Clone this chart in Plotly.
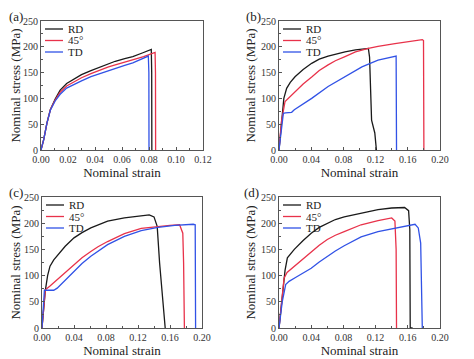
import plotly.graph_objects as go

# ---------------- data ----------------
series_names = ["RD", "45°", "TD"]
series_colors = ["#1a1a1a", "#e8324a", "#3152e6"]

# panel (a)
a_rd_x = [0, 0.002, 0.0044, 0.0069, 0.0105, 0.0142, 0.019, 0.025, 0.03, 0.037, 0.0437, 0.05, 0.055, 0.062, 0.068, 0.075, 0.0817, 0.082, 0.0821]
a_rd_y = [0, 20, 52, 78, 99, 116, 129, 138, 146, 154, 161, 167, 172, 177, 181, 188, 195, 150, 0]
a_45_x = [0, 0.002, 0.0044, 0.0069, 0.0105, 0.0142, 0.019, 0.025, 0.03, 0.037, 0.0437, 0.05, 0.055, 0.062, 0.068, 0.076, 0.0845, 0.0848, 0.0849]
a_45_y = [0, 20, 52, 78, 97, 112, 124, 133, 140, 148, 155, 161, 165, 170, 174, 181, 189, 150, 0]
a_td_x = [0, 0.002, 0.0044, 0.0069, 0.0105, 0.0142, 0.019, 0.025, 0.03, 0.037, 0.0437, 0.05, 0.055, 0.062, 0.068, 0.074, 0.0795, 0.0799, 0.080]
a_td_y = [0, 20, 52, 77, 95, 108, 120, 128, 134, 142, 148, 154, 159, 164, 169, 176, 182, 150, 0]

# panel (b)
b_rd_x = [0, 0.003, 0.006, 0.0095, 0.014, 0.0199, 0.03, 0.0406, 0.05, 0.061, 0.07, 0.082, 0.095, 0.111, 0.1125, 0.115, 0.119, 0.121]
b_rd_y = [0, 50, 100, 119.5, 131, 142, 156, 168, 176, 182, 186, 190, 194, 197, 180, 58, 33, 0]
b_45_x = [0, 0.003, 0.0075, 0.012, 0.020, 0.03, 0.041, 0.05, 0.061, 0.07, 0.082, 0.095, 0.111, 0.123, 0.144, 0.165, 0.178, 0.1795, 0.18]
b_45_y = [0, 55, 94, 101, 113, 128, 142, 154, 165, 173, 181, 190, 197, 201, 206, 211, 214, 212, 0]
b_td_x = [0, 0.003, 0.0054, 0.008, 0.012, 0.0157, 0.019, 0.024, 0.0406, 0.061, 0.082, 0.103, 0.123, 0.144, 0.1455, 0.146]
b_td_y = [0, 45, 71, 72, 72.5, 73, 78, 83, 100, 123, 142, 161, 174, 182, 182, 0]

# panel (c)
c_rd_x = [0, 0.004, 0.007, 0.010, 0.0147, 0.02, 0.029, 0.040, 0.05, 0.061, 0.07, 0.082, 0.103, 0.124, 0.134, 0.140, 0.144, 0.147, 0.151, 0.154]
c_rd_y = [0, 70, 100, 118, 130, 140, 156, 172, 182, 191, 197, 204, 210, 214, 216, 212, 194, 124, 54, 0]
c_45_x = [0, 0.0042, 0.010, 0.019, 0.030, 0.040, 0.05, 0.061, 0.07, 0.082, 0.103, 0.124, 0.145, 0.160, 0.172, 0.176, 0.177, 0.178]
c_45_y = [0, 73, 80, 92, 107, 121, 134, 146, 155, 165, 180, 190, 194, 196, 197, 181, 124, 0]
c_td_x = [0, 0.003, 0.008, 0.0147, 0.019, 0.030, 0.040, 0.05, 0.061, 0.07, 0.082, 0.103, 0.124, 0.145, 0.166, 0.189, 0.1915, 0.192]
c_td_y = [0, 72, 72, 72, 76, 92, 108, 123, 137, 147, 159, 175, 186, 192, 196, 198, 197, 0]

# panel (d)
d_rd_x = [0, 0.0042, 0.0075, 0.0104, 0.019, 0.03, 0.040, 0.05, 0.060, 0.07, 0.081, 0.102, 0.123, 0.140, 0.156, 0.161, 0.1625, 0.163, 0.166]
d_rd_y = [0, 60, 110, 134, 150, 167, 181, 192, 200, 207, 212, 219, 226, 229, 230, 224, 188, 0, 0]
d_45_x = [0, 0.0035, 0.0063, 0.010, 0.019, 0.03, 0.040, 0.05, 0.060, 0.07, 0.081, 0.102, 0.123, 0.140, 0.144, 0.1455, 0.146]
d_45_y = [0, 55, 95, 106, 118, 133, 146, 158, 169, 177, 184, 197, 205, 210, 204, 150, 0]
d_td_x = [0, 0.004, 0.0083, 0.0125, 0.02, 0.03, 0.040, 0.05, 0.060, 0.07, 0.081, 0.102, 0.123, 0.144, 0.169, 0.173, 0.176, 0.178]
d_td_y = [0, 50, 83, 89, 96, 105, 114, 126, 137, 147, 157, 174, 184, 191, 198, 191, 162, 0]

panel_labels = ["(a)", "(b)", "(c)", "(d)"]
x_title = "Nominal strain"
y_title = "Nominal stress (MPa)"
x_ranges = [[0, 0.12], [0, 0.20], [0, 0.20], [0, 0.20]]
x_dticks = [0.02, 0.04, 0.04, 0.04]
y_range = [0, 250]
y_dtick = 50

panels = [
    [(a_rd_x, a_rd_y), (a_45_x, a_45_y), (a_td_x, a_td_y)],
    [(b_rd_x, b_rd_y), (b_45_x, b_45_y), (b_td_x, b_td_y)],
    [(c_rd_x, c_rd_y), (c_45_x, c_45_y), (c_td_x, c_td_y)],
    [(d_rd_x, d_rd_y), (d_45_x, d_45_y), (d_td_x, d_td_y)],
]

# ---------------- layout geometry ----------------
# the page body has an 8 px default margin, so the figure is drawn 8 px smaller
OFF = 8
W, H = 474 - OFF, 359 - OFF
FONT = "Liberation Serif, Times New Roman, serif"
x_px = [(41, 203), (279, 440), (42, 202), (279, 440)]
y_px = [(21, 150), (21, 150), (197, 328), (197, 328)]
label_px = [(8, 7), (245, 7), (8, 184), (243, 184)]   # left edge, top edge


def px_x(p):
    return max(0.0, (p - OFF) / W)


def px_y(p):
    return min(1.0, 1 - (p - OFF) / H)


fig = go.Figure()
axis_line = "#555555"

for i, curves in enumerate(panels):
    n = "" if i == 0 else str(i + 1)
    for (xs, ys), name, col in zip(curves, series_names, series_colors):
        fig.add_trace(go.Scatter(x=xs, y=ys, mode="lines", name=name,
                                 line=dict(color=col, width=1.3),
                                 xaxis="x" + n, yaxis="y" + n, showlegend=False))
    x0, x1 = x_px[i]
    ya, yb = y_px[i]
    common = dict(showline=True, mirror=True, linecolor=axis_line, linewidth=1,
                  ticks="inside", ticklen=3, tickcolor=axis_line, showgrid=False,
                  zeroline=False, automargin=False,
                  tickfont=dict(family=FONT, size=10, color="#333"))
    fig.layout["xaxis" + n] = dict(domain=[px_x(x0), px_x(x1)], anchor="y" + n,
                                   range=x_ranges[i], dtick=x_dticks[i], tick0=0,
                                   tickformat=".2f",
                                   minor=dict(ticks="inside", ticklen=2, tickcolor=axis_line,
                                              dtick=x_dticks[i] / 2),
                                   title=dict(text=x_title, standoff=2,
                                              font=dict(family=FONT, size=13, color="#222")),
                                   **common)
    fig.layout["yaxis" + n] = dict(domain=[px_y(yb), px_y(ya)], anchor="x" + n,
                                   range=y_range, dtick=y_dtick,
                                   minor=dict(ticks="inside", ticklen=2, tickcolor=axis_line,
                                              dtick=y_dtick / 2),
                                   title=dict(text=y_title, standoff=2,
                                              font=dict(family=FONT, size=13, color="#222")),
                                   **common)
    # panel label
    lx, ly = label_px[i]
    fig.add_annotation(text=panel_labels[i], x=px_x(lx), y=px_y(ly), xref="paper", yref="paper",
                       showarrow=False, xanchor="left", yanchor="top", borderpad=0,
                       font=dict(family=FONT, size=13, color="#222"))
    # in-panel legend
    pw, ph = x1 - x0, yb - ya
    for k, (name, col) in enumerate(zip(series_names, series_colors)):
        yy = 1 - (8 + 11.5 * k) / ph
        fig.add_shape(type="line", xref="x" + n + " domain", yref="y" + n + " domain",
                      x0=4 / pw, x1=22 / pw, y0=yy, y1=yy,
                      line=dict(color=col, width=1.3))
        fig.add_annotation(text=name, xref="x" + n + " domain", yref="y" + n + " domain",
                           x=25 / pw, y=yy, showarrow=False, xanchor="left", yanchor="middle",
                           font=dict(family=FONT, size=11, color="#222"))

fig.update_layout(width=W, height=H, margin=dict(l=0, r=0, t=0, b=0),
                  paper_bgcolor="white", plot_bgcolor="white", showlegend=False)

fig.write_html("out.html")
